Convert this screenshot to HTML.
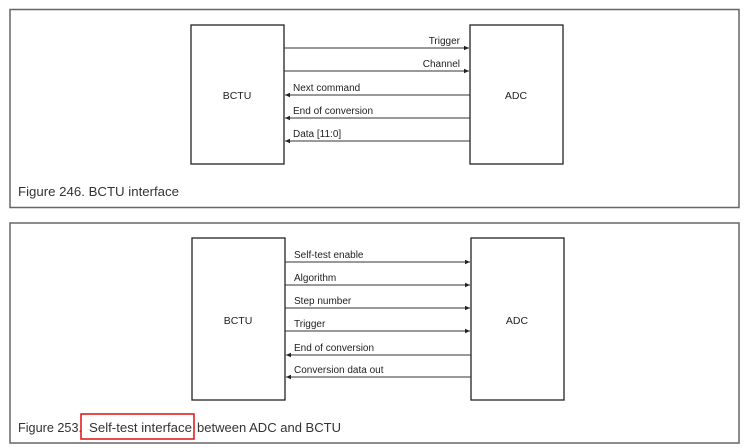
<!DOCTYPE html>
<html><head><style>body{margin:0;background:#fff}svg{display:block}</style></head><body>
<svg width="749" height="448" xmlns="http://www.w3.org/2000/svg" font-family="Liberation Sans, sans-serif">
<defs><marker id="a" markerWidth="6" markerHeight="6" refX="5" refY="3" orient="auto"><path d="M0,0.8 L5,3 L0,5.2z" fill="#222"/></marker></defs>
<rect x="10" y="9.5" width="729" height="198" fill="none" stroke="#666" stroke-width="1.5"/>
<rect x="191" y="25" width="93" height="139" fill="none" stroke="#222" stroke-width="1.3"/>
<rect x="470" y="25" width="93" height="139" fill="none" stroke="#222" stroke-width="1.3"/>
<text x="237" y="99" font-size="10.5" text-anchor="middle" fill="#222">BCTU</text>
<text x="516" y="99" font-size="10.5" text-anchor="middle" fill="#222">ADC</text>
<g stroke="#333" stroke-width="1" marker-end="url(#a)">
<line x1="284" y1="48" x2="469" y2="48"/><line x1="284" y1="71" x2="469" y2="71"/>
<line x1="470" y1="95" x2="285" y2="95"/><line x1="470" y1="118" x2="285" y2="118"/><line x1="470" y1="141" x2="285" y2="141"/>
</g>
<g font-size="10" fill="#222">
<text x="460" y="44" text-anchor="end">Trigger</text><text x="460" y="67" text-anchor="end">Channel</text>
<text x="293" y="91">Next command</text><text x="293" y="114">End of conversion</text><text x="293" y="137">Data [11:0]</text>
</g>
<text x="18" y="196" font-size="13" fill="#333" textLength="161" lengthAdjust="spacingAndGlyphs">Figure 246.  BCTU interface</text>

<rect x="10" y="223" width="729" height="220" fill="none" stroke="#666" stroke-width="1.5"/>
<rect x="192" y="238" width="93" height="162" fill="none" stroke="#222" stroke-width="1.3"/>
<rect x="471" y="238" width="93" height="162" fill="none" stroke="#222" stroke-width="1.3"/>
<text x="238" y="324" font-size="10.5" text-anchor="middle" fill="#222">BCTU</text>
<text x="517" y="324" font-size="10.5" text-anchor="middle" fill="#222">ADC</text>
<g stroke="#333" stroke-width="1" marker-end="url(#a)">
<line x1="285" y1="262" x2="470" y2="262"/><line x1="285" y1="285" x2="470" y2="285"/>
<line x1="285" y1="308" x2="470" y2="308"/><line x1="285" y1="331" x2="470" y2="331"/>
<line x1="471" y1="355" x2="286" y2="355"/><line x1="471" y1="377" x2="286" y2="377"/>
</g>
<g font-size="10" fill="#222">
<text x="294" y="258">Self-test enable</text><text x="294" y="281">Algorithm</text>
<text x="294" y="304">Step number</text><text x="294" y="327">Trigger</text>
<text x="294" y="351">End of conversion</text><text x="294" y="373">Conversion data out</text>
</g>
<g font-size="13" fill="#333">
<text x="18" y="432" textLength="64" lengthAdjust="spacingAndGlyphs">Figure 253.</text>
<text x="89" y="432" textLength="103" lengthAdjust="spacingAndGlyphs">Self-test interface</text>
<text x="197" y="432" textLength="144" lengthAdjust="spacingAndGlyphs">between ADC and BCTU</text>
</g>
<rect x="81" y="414" width="113" height="25" fill="none" stroke="#e02020" stroke-width="1.6"/>
</svg>
</body></html>
